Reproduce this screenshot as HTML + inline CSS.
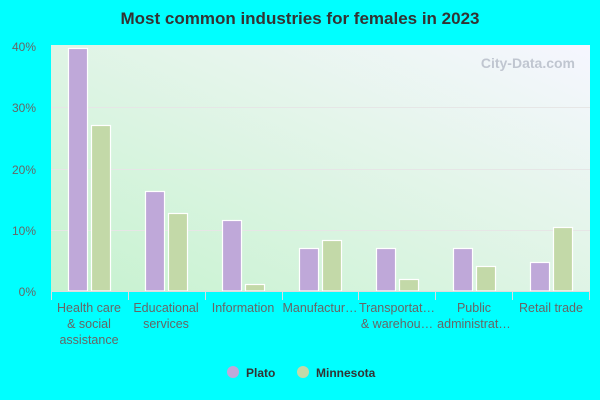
<!DOCTYPE html><html><head><style>html,body{margin:0;background:#0ff;width:600px;height:400px;overflow:hidden}svg{display:block}</style></head><body>
<svg width="600" height="400" xmlns="http://www.w3.org/2000/svg" font-family="Liberation Sans, sans-serif">
<defs><linearGradient id="g" x1="0" y1="1" x2="1" y2="0"><stop offset="0" stop-color="#c6f2cf"/><stop offset="0.6" stop-color="#e4f5ea"/><stop offset="1" stop-color="#f6f6ff"/></linearGradient></defs>
<rect x="0" y="0" width="600" height="400" fill="#0ff"/>
<text x="300" y="24" text-anchor="middle" font-size="17" font-weight="bold" fill="#333">Most common industries for females in 2023</text>
<rect x="51" y="45" width="539" height="246" fill="url(#g)"/>
<g stroke="#e6e6e6" stroke-width="1"><line x1="51" y1="107.5" x2="590" y2="107.5"/><line x1="51" y1="169.5" x2="590" y2="169.5"/><line x1="51" y1="230.5" x2="590" y2="230.5"/></g>
<g font-size="12" fill="#666" text-anchor="end"><text x="36" y="51">40%</text><text x="36" y="112">30%</text><text x="36" y="174">20%</text><text x="36" y="235">10%</text><text x="36" y="296">0%</text></g>
<text x="575" y="68" text-anchor="end" font-size="14" fill="#c0c6d0" font-weight="bold">City-Data.com</text>
<g stroke="#fff" stroke-width="1.2">
<g fill="#bfa8d9">
<rect x="68.5" y="48.5" width="19" height="242.5"/><rect x="145.5" y="191.5" width="19" height="99.5"/><rect x="222.5" y="220.5" width="19" height="70.5"/><rect x="299.5" y="248.5" width="19" height="42.5"/><rect x="376.5" y="248.5" width="19" height="42.5"/><rect x="453.5" y="248.5" width="19" height="42.5"/><rect x="530.5" y="262.5" width="19" height="28.5"/></g>
<g fill="#c3d9a8">
<rect x="91.5" y="125.5" width="19" height="165.5"/><rect x="168.5" y="213.5" width="19" height="77.5"/><rect x="245.5" y="284.5" width="19" height="6.5"/><rect x="322.5" y="240.5" width="19" height="50.5"/><rect x="399.5" y="279.5" width="19" height="11.5"/><rect x="476.5" y="266.5" width="19" height="24.5"/><rect x="553.5" y="227.5" width="19" height="63.5"/></g></g>
<g stroke="#ddd" stroke-width="1"><line x1="51" y1="291.5" x2="590" y2="291.5"/>
<line x1="51.5" y1="291" x2="51.5" y2="300"/><line x1="128.5" y1="291" x2="128.5" y2="300"/><line x1="205.5" y1="291" x2="205.5" y2="300"/><line x1="282.5" y1="291" x2="282.5" y2="300"/><line x1="358.5" y1="291" x2="358.5" y2="300"/><line x1="435.5" y1="291" x2="435.5" y2="300"/><line x1="512.5" y1="291" x2="512.5" y2="300"/><line x1="589.5" y1="291" x2="589.5" y2="300"/></g>
<g font-size="12.5" fill="#666" text-anchor="middle">
<text x="89" y="312">Health care</text><text x="89" y="328">&amp; social</text><text x="89" y="344">assistance</text>
<text x="166" y="312">Educational</text><text x="166" y="328">services</text>
<text x="243" y="312">Information</text>
<text x="320" y="312">Manufactur…</text>
<text x="397" y="312">Transportat…</text><text x="397" y="328">&amp; warehou…</text>
<text x="474" y="312">Public</text><text x="474" y="328">administrat…</text>
<text x="551" y="312">Retail trade</text></g>
<circle cx="233" cy="372" r="6" fill="#bfa8d9"/><text x="246" y="377" font-size="12" font-weight="bold" fill="#333">Plato</text>
<circle cx="303" cy="372" r="6" fill="#c3d9a8"/><text x="316" y="377" font-size="12" font-weight="bold" fill="#333">Minnesota</text>
</svg></body></html>
